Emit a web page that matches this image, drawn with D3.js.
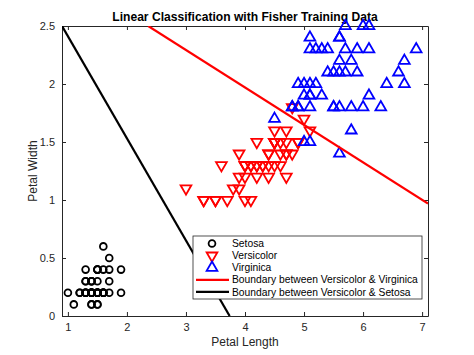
<!DOCTYPE html>
<html><head><meta charset="utf-8">
<script src="https://d3js.org/d3.v7.min.js"></script>
<style>body{margin:0;background:#fff;} svg{display:block;font-family:"Liberation Sans",Arial,sans-serif;}</style>
</head><body>
<svg id="chart" width="474" height="355"></svg>
<script>
// Petal length / width of Fisher's iris training data
const setosaLength = [1.4,1.4,1.3,1.5,1.4,1.7,1.4,1.5,1.4,1.5,1.5,1.6,1.4,1.1,1.2,1.5,1.3,1.4,1.7,1.5,1.7,1.5,1.0,1.7,1.9,1.6,1.6,1.5,1.4,1.6,1.6,1.5,1.5,1.4,1.5,1.2,1.3,1.4,1.3,1.5,1.3,1.3,1.3,1.6,1.9,1.4,1.6,1.4,1.5,1.4];
const setosaWidth  = [0.2,0.2,0.2,0.2,0.2,0.4,0.3,0.2,0.2,0.1,0.2,0.2,0.1,0.1,0.2,0.4,0.4,0.3,0.3,0.3,0.2,0.4,0.2,0.5,0.2,0.2,0.4,0.2,0.2,0.2,0.2,0.4,0.1,0.2,0.2,0.2,0.2,0.1,0.2,0.2,0.3,0.3,0.2,0.6,0.4,0.3,0.2,0.2,0.2,0.2];
const versicolorLength = [4.7,4.5,4.9,4.0,4.6,4.5,4.7,3.3,4.6,3.9,3.5,4.2,4.0,4.7,3.6,4.4,4.5,4.1,4.5,3.9,4.8,4.0,4.9,4.7,4.3,4.4,4.8,5.0,4.5,3.5,3.8,3.7,3.9,5.1,4.5,4.5,4.7,4.4,4.1,4.0,4.4,4.6,4.0,3.3,4.2,4.2,4.2,4.3,3.0,4.1];
const versicolorWidth  = [1.4,1.5,1.5,1.3,1.5,1.3,1.6,1.0,1.3,1.4,1.0,1.5,1.0,1.4,1.3,1.4,1.5,1.0,1.5,1.1,1.8,1.3,1.5,1.2,1.3,1.4,1.4,1.7,1.5,1.0,1.1,1.0,1.2,1.6,1.5,1.6,1.5,1.3,1.3,1.3,1.2,1.4,1.2,1.0,1.3,1.2,1.3,1.3,1.1,1.3];
const virginicaLength = [6.0,5.1,5.9,5.6,5.8,6.6,4.5,6.3,5.8,6.1,5.1,5.3,5.5,5.0,5.1,5.3,5.5,6.7,6.9,5.0,5.7,4.9,6.7,4.9,5.7,6.0,4.8,4.9,5.6,5.8,6.1,6.4,5.6,5.1,5.6,6.1,5.6,5.5,4.8,5.4,5.6,5.1,5.1,5.9,5.7,5.2,5.0,5.2,5.4,5.1];
const virginicaWidth  = [2.5,1.9,2.1,1.8,2.2,2.1,1.7,1.8,1.8,2.5,2.0,1.9,2.1,2.0,2.4,2.3,1.8,2.2,2.3,1.5,2.3,2.0,2.0,1.8,2.1,1.8,1.8,1.8,2.1,1.6,1.9,2.0,2.2,1.5,1.4,2.3,2.4,1.8,1.8,2.1,2.4,2.3,1.9,2.3,2.5,2.3,1.9,2.0,2.3,1.8];
// Decision boundaries (end points where they meet the axes box)
const boundaryVVLength = [2.36, 7.1];
const boundaryVVWidth  = [2.5, 0.97];
const boundaryVSLength = [0.9, 3.74];
const boundaryVSWidth  = [2.5, 0.0];
const xTicks = [1,2,3,4,5,6,7];
const yTicks = [0,0.5,1,1.5,2,2.5];
const xDomain = [0.9, 7.1];
const yDomain = [0, 2.5];
const legendLabels = ["Setosa","Versicolor","Virginica","Boundary between Versicolor & Virginica","Boundary between Versicolor & Setosa"];

const svg = d3.select("#chart");
const L = 62, R = 428, T = 26, B = 316;
const x = d3.scaleLinear().domain(xDomain).range([L, R]);
const y = d3.scaleLinear().domain(yDomain).range([B, T]);
const axisColor = "#262626";

const defs = svg.append("defs");
defs.append("clipPath").attr("id","clip").append("rect").attr("x",L).attr("y",T).attr("width",R-L).attr("height",B-T);

// axes
const gx = svg.append("g").attr("transform",`translate(0,${B})`)
  .call(d3.axisBottom(x).tickValues(xTicks).tickSizeInner(-4).tickSizeOuter(0).tickPadding(7).tickFormat(d3.format("")));
const gy = svg.append("g").attr("transform",`translate(${L},0)`)
  .call(d3.axisLeft(y).tickValues(yTicks).tickSizeInner(-4).tickSizeOuter(0).tickPadding(7).tickFormat(d=>String(d)));
const gxt = svg.append("g").attr("transform",`translate(0,${T})`)
  .call(d3.axisTop(x).tickValues(xTicks).tickSizeInner(-4).tickSizeOuter(0).tickFormat(""));
const gyr = svg.append("g").attr("transform",`translate(${R},0)`)
  .call(d3.axisRight(y).tickValues(yTicks).tickSizeInner(-4).tickSizeOuter(0).tickFormat(""));
[gx,gy,gxt,gyr].forEach(g=>{
  g.select(".domain").attr("stroke",axisColor).attr("stroke-width",1);
  g.selectAll(".tick line").attr("stroke",axisColor);
  g.selectAll(".tick text").attr("fill",axisColor).style("font-size","11px").style("font-family","'Liberation Sans',Arial,sans-serif");
});

// axis labels & title
svg.append("text").attr("x",(L+R)/2).attr("y",346).attr("text-anchor","middle")
  .attr("fill",axisColor).style("font-size","12px").text("Petal Length");
svg.append("text").attr("transform",`translate(37,${(T+B)/2}) rotate(-90)`).attr("text-anchor","middle")
  .attr("fill",axisColor).style("font-size","12px").text("Petal Width");
svg.append("text").attr("x",(L+R)/2).attr("y",21).attr("text-anchor","middle")
  .attr("fill","#000").style("font-size","12.1px").style("font-weight","bold").text("Linear Classification with Fisher Training Data");

const plot = svg.append("g");
const linesG = svg.append("g").attr("clip-path","url(#clip)");

const tri = d3.symbol().type(d3.symbolTriangle).size(50);
function zip(a,b){return a.map((v,i)=>[v,b[i]]);}

// setosa circles
plot.selectAll("circle.setosa").data(zip(setosaLength,setosaWidth)).join("circle")
  .attr("cx",d=>x(d[0])).attr("cy",d=>y(d[1])).attr("r",3.4)
  .attr("fill","none").attr("stroke","#000").attr("stroke-width",1.8);
// versicolor down triangles
plot.selectAll("path.vers").data(zip(versicolorLength,versicolorWidth)).join("path")
  .attr("d",tri).attr("transform",d=>`translate(${x(d[0])},${y(d[1])}) rotate(180)`)
  .attr("fill","none").attr("stroke","#ff0000").attr("stroke-width",1.8);
// virginica up triangles
plot.selectAll("path.virg").data(zip(virginicaLength,virginicaWidth)).join("path")
  .attr("d",tri).attr("transform",d=>`translate(${x(d[0])},${y(d[1])})`)
  .attr("fill","none").attr("stroke","#0000ff").attr("stroke-width",1.8);

const line = d3.line().x(d=>x(d[0])).y(d=>y(d[1]));
linesG.append("path").attr("d",line(zip(boundaryVVLength,boundaryVVWidth)))
  .attr("stroke","#ff0000").attr("stroke-width",2.2).attr("fill","none");
linesG.append("path").attr("d",line(zip(boundaryVSLength,boundaryVSWidth)))
  .attr("stroke","#000").attr("stroke-width",2.2).attr("fill","none");

// legend
const lg = svg.append("g");
lg.append("rect").attr("x",193).attr("y",236).attr("width",229).attr("height",63)
  .attr("fill","#fff").attr("stroke",axisColor).attr("stroke-width",0.8);
const rowY = i => 243.5 + i*12.1;
legendLabels.forEach((lab,i)=>{
  const yy = rowY(i);
  if(i===0) lg.append("circle").attr("cx",212).attr("cy",yy).attr("r",3.4).attr("fill","none").attr("stroke","#000").attr("stroke-width",1.8);
  if(i===1) lg.append("path").attr("d",tri).attr("transform",`translate(212,${yy}) rotate(180)`).attr("fill","none").attr("stroke","#ff0000").attr("stroke-width",1.8);
  if(i===2) lg.append("path").attr("d",tri).attr("transform",`translate(212,${yy})`).attr("fill","none").attr("stroke","#0000ff").attr("stroke-width",1.8);
  if(i===3) lg.append("line").attr("x1",196).attr("x2",229).attr("y1",yy).attr("y2",yy).attr("stroke","#ff0000").attr("stroke-width",2.2);
  if(i===4) lg.append("line").attr("x1",196).attr("x2",229).attr("y1",yy).attr("y2",yy).attr("stroke","#000").attr("stroke-width",2.2);
  lg.append("text").attr("x",232).attr("y",yy+3.6).attr("fill","#000").style("font-size","10.3px").text(lab);
});
</script>
</body></html>
